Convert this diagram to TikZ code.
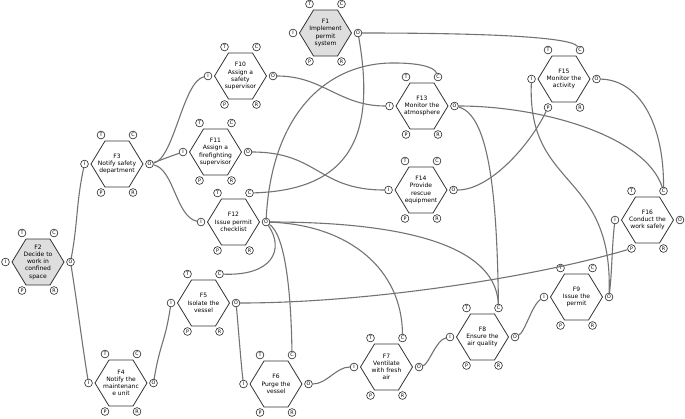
\documentclass[tikz,border=0pt]{standalone}
\usepackage{fontspec}
\setmainfont{DejaVu Sans}
\tikzset{
  x=1pt,y=-1pt,
  hexline/.style={draw=black!80,line width=0.8pt},
  hexfill/.style={hexline,fill=black!13},
  hextext/.style={inner sep=0pt,align=center,font=\fontsize{6}{7.2}\selectfont,text=black},
  portnode/.style={circle,draw=black!85,line width=0.6pt,fill=white,inner sep=0pt,minimum size=7.8pt,font=\fontsize{4.8}{4.8}\selectfont,text=black},
  link/.style={draw=black!55,line width=1.1pt}
}
\newcommand{\hexfn}[5]{%
  \path[#5] (#2-26,#3) -- (#2-12,#3-23) -- (#2+12,#3-23) -- (#2+26,#3) -- (#2+12,#3+23) -- (#2-12,#3+23) -- cycle;
  \node[hextext] (#1) at (#2,#3) {#4};
  \node[portnode] (#1-T) at (#2-16,#3-29) {T};
  \node[portnode] (#1-C) at (#2+16,#3-29) {C};
  \node[portnode] (#1-I) at (#2-32.5,#3) {I};
  \node[portnode] (#1-O) at (#2+32.5,#3) {O};
  \node[portnode] (#1-P) at (#2-16,#3+28.5) {P};
  \node[portnode] (#1-R) at (#2+16,#3+28.5) {R};
}
\begin{document}
\begin{tikzpicture}
\useasboundingbox (0,0) rectangle (685,418);
\hexfn{F1}{325.5}{33}{F1\\Implement\\permit\\system}{hexfill}
\hexfn{F2}{38}{262}{F2\\Decide to\\work in\\confined\\space}{hexfill}
\hexfn{F3}{117}{164}{F3\\Notify safety\\department}{hexline}
\hexfn{F4}{121}{383}{F4\\Notify the\\maintenanc\\e unit}{hexline}
\hexfn{F5}{203.5}{303}{F5\\Isolate the\\vessel}{hexline}
\hexfn{F6}{276}{384}{F6\\Purge the\\vessel}{hexline}
\hexfn{F7}{386.5}{367}{F7\\Ventilate\\with fresh\\air}{hexline}
\hexfn{F8}{482.5}{337}{F8\\Ensure the\\air quality}{hexline}
\hexfn{F9}{576.5}{297}{F9\\Issue the\\permit}{hexline}
\hexfn{F10}{240.5}{76}{F10\\Assign a\\safety\\supervisor}{hexline}
\hexfn{F11}{215.5}{152}{F11\\Assign a\\firefighting\\supervisor}{hexline}
\hexfn{F12}{233.5}{222}{F12\\Issue permit\\checklist}{hexline}
\hexfn{F13}{422}{106}{F13\\Monitor the\\atmosphere}{hexline}
\hexfn{F14}{421}{190}{F14\\Provide\\rescue\\equipment}{hexline}
\hexfn{F15}{564}{79}{F15\\Monitor the\\activity}{hexline}
\hexfn{F16}{647.5}{220}{F16\\Conduct the\\work safely}{hexline}

\draw[link] (F2-O) .. controls (78,222) and (76,204) .. (F3-I);
\draw[link] (F2-O) .. controls (77,302) and (82,343) .. (F4-I);
\draw[link] (F3-O) .. controls (174,159) and (183,81) .. (F10-I);
\draw[link] (F3-O) .. controls (161,160) and (171,156) .. (F11-I);
\draw[link] (F3-O) .. controls (174,169) and (176,217) .. (F12-I);
\draw[link] (F4-O) .. controls (160,343) and (165,343) .. (F5-I);
\draw[link] (F5-O) .. controls (238,323) and (241,364) .. (F6-I);
\draw[link] (F5-O) .. controls (366,303) and (531,278) .. (F16-P);
\draw[link] (F6-O) .. controls (327,384) and (336,367) .. (F7-I);
\draw[link] (F7-O) .. controls (429,364) and (436,340) .. (F8-I);
\draw[link] (F8-O) .. controls (525,332) and (532,305) .. (F9-I);
\draw[link] (F9-O) .. controls (612,272) and (612,245) .. (F16-I);
\draw[link] (F9-O) .. controls (613,170) and (527,190) .. (F15-I);
\draw[link] (F1-O) .. controls (375,130) and (355,190) .. (F12-C);
\draw[link] (F1-O) .. controls (450,33) and (570,35) .. (F15-C);
\draw[link] (F10-O) .. controls (323,76) and (339,106) .. (F13-I);
\draw[link] (F11-O) .. controls (318,152) and (318,190) .. (F14-I);
\draw[link] (F12-O) .. controls (272,110) and (330,62) .. (395,63) .. controls (415,63) and (434,66) .. (F13-C);
\draw[link] (F12-O) .. controls (285,250) and (272,276) .. (F5-C);
\draw[link] (F12-O) .. controls (285,235) and (291,290) .. (F6-C);
\draw[link] (F12-O) .. controls (350,225) and (402,270) .. (F7-C);
\draw[link] (F12-O) .. controls (370,222) and (495,235) .. (F8-C);
\draw[link] (F13-O) .. controls (490,115) and (497,200) .. (F8-C);
\draw[link] (F13-O) .. controls (540,106) and (645,135) .. (F16-C);
\draw[link] (F14-O) .. controls (490,190) and (530,145) .. (F15-P);
\draw[link] (F15-O) .. controls (640,80) and (664,125) .. (F16-C);
\end{tikzpicture}
\end{document}
